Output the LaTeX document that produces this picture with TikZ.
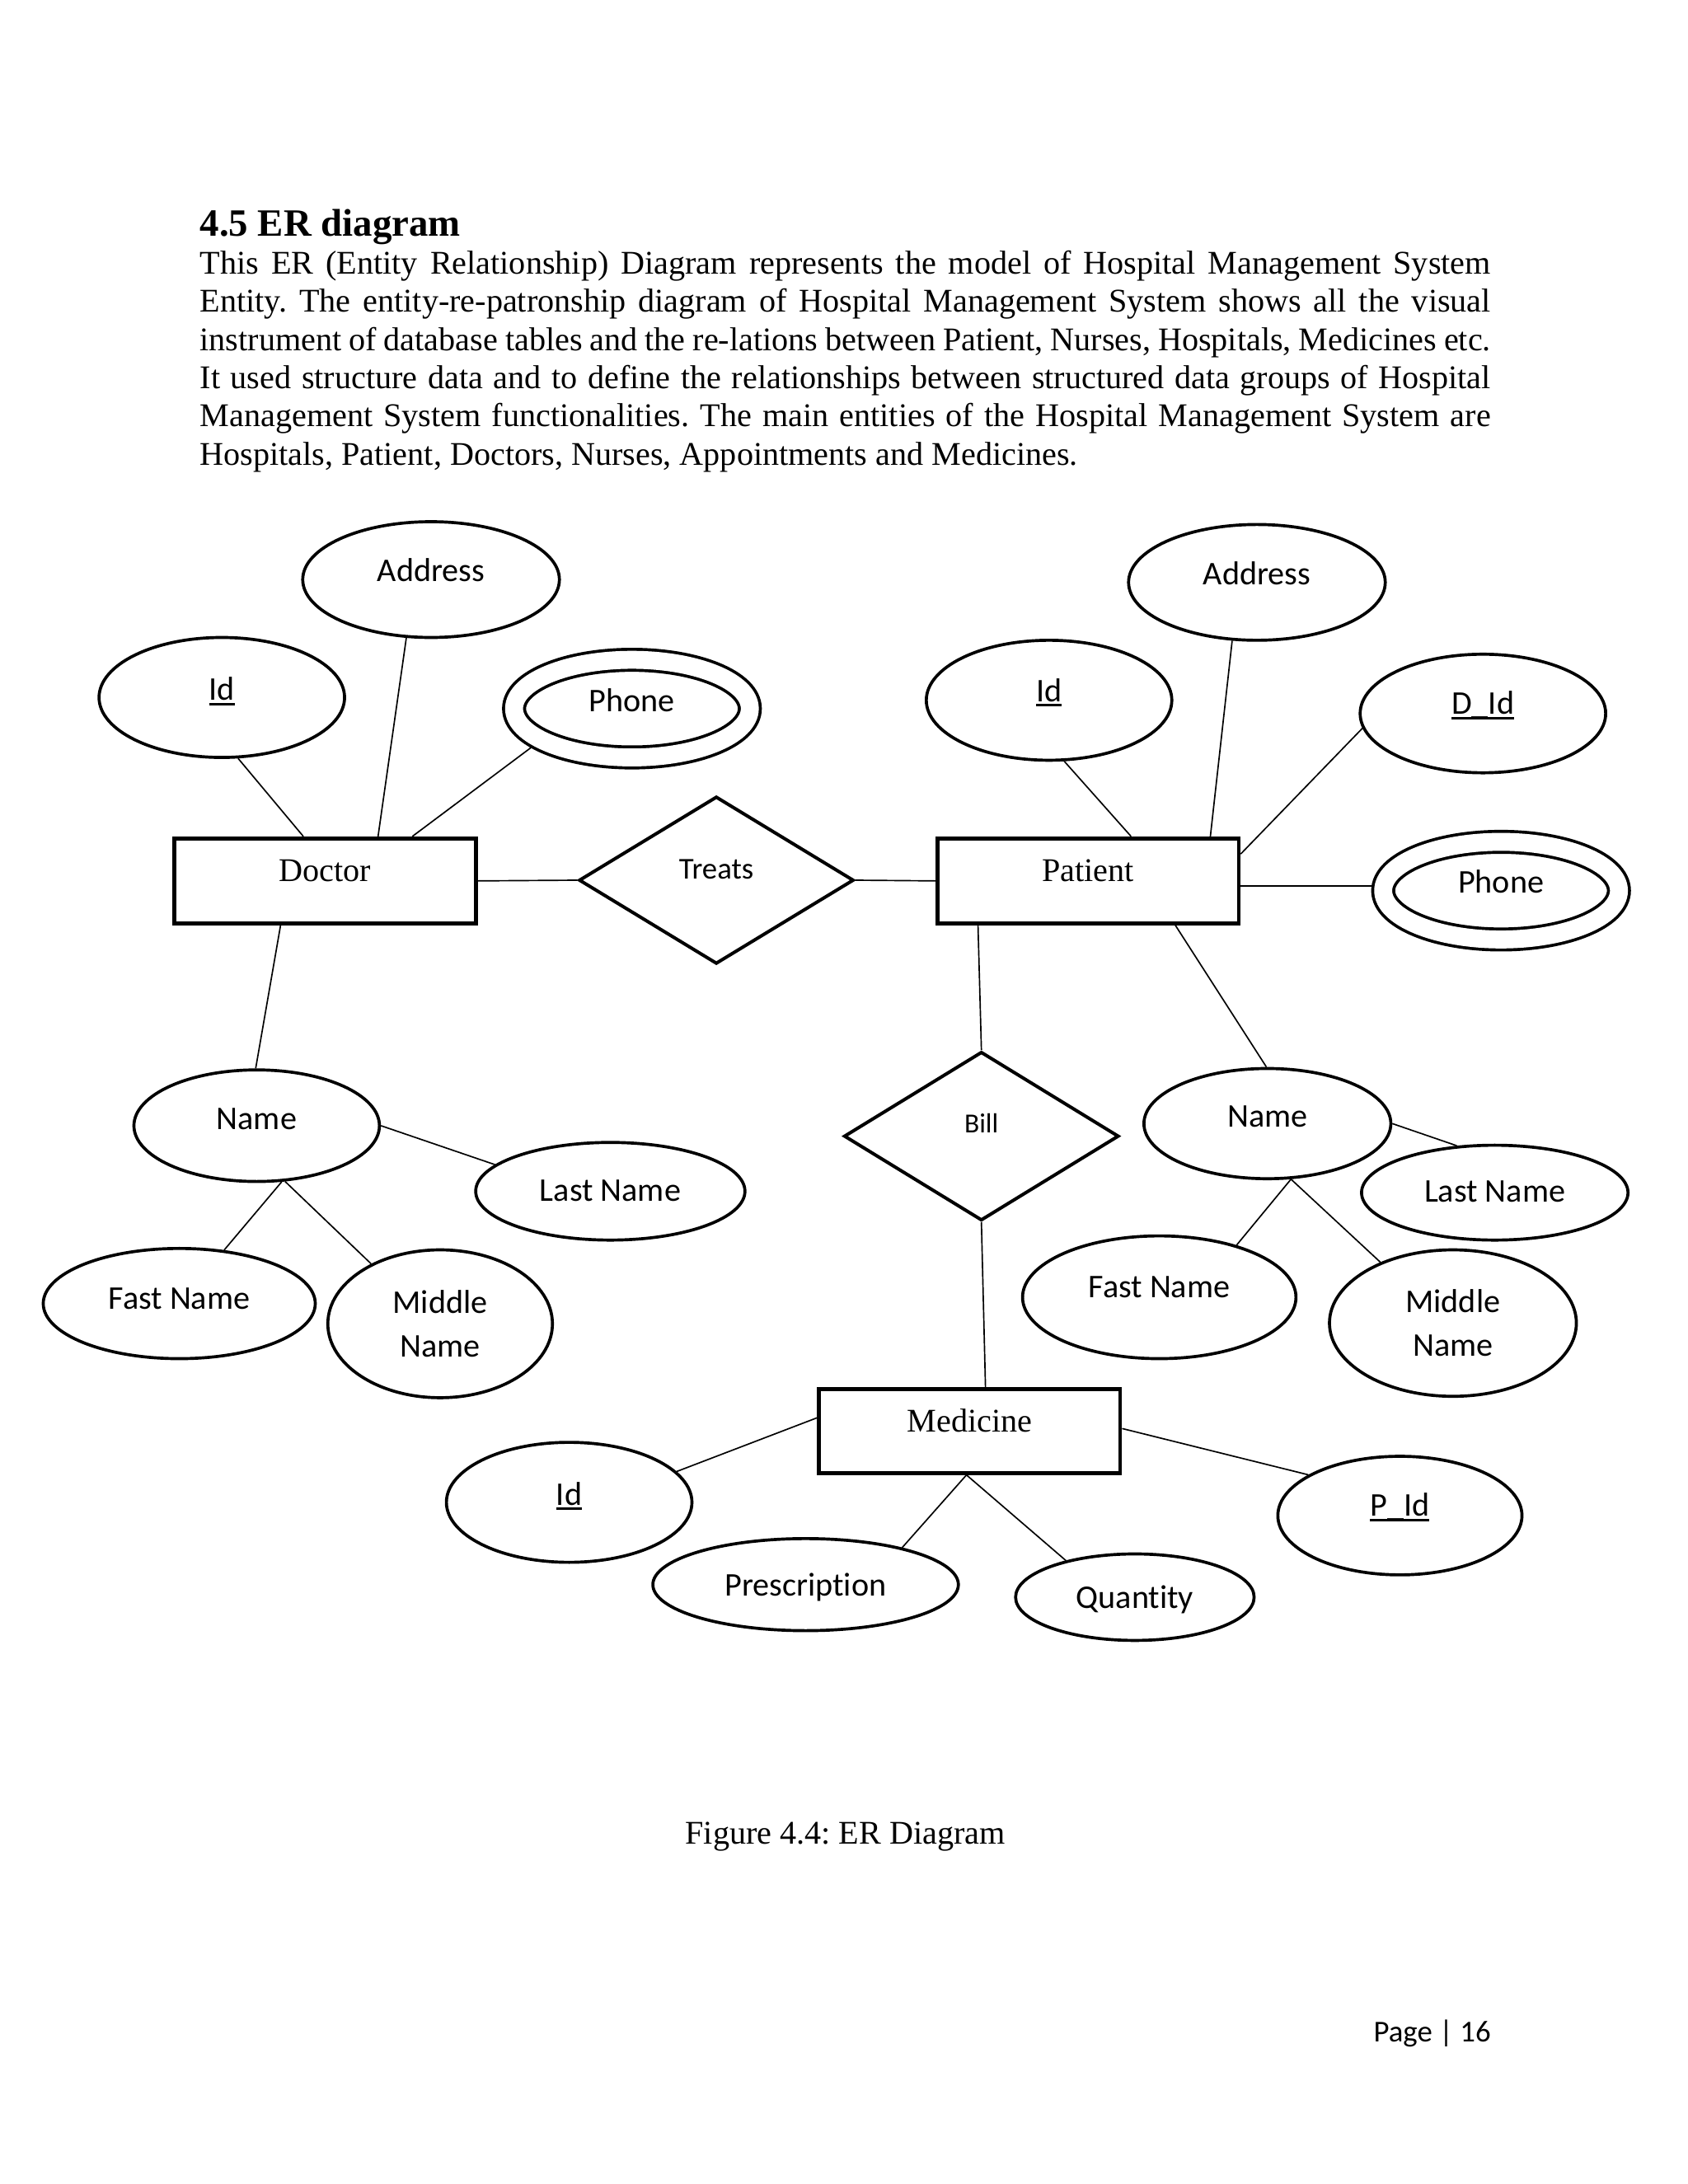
\documentclass[tikz,border=0pt]{standalone}
\usepackage{fontspec}
\setmainfont{Liberation Serif}
\newfontfamily\calibri[Ligatures = NoCommon]{Carlito}
\usetikzlibrary{shapes.geometric}

\newcommand\pxu{0.5058pt}
\newcommand\keyattr[1]{\setbox0\hbox{#1}\rlap{\rule[-1.8pt]{\wd0}{0.9pt}}\box0}
\frenchspacing

\tikzset{
  attr/.style 2 args = {ellipse, draw, line width = 1.1pt, inner sep = 1pt,
    minimum width = #1*\pxu, minimum height = #2*\pxu,
    font = \calibri\fontsize{12}{15.7}\selectfont},
  multi/.style 2 args = {attr = {#1}{#2}, double, double distance = 6.5pt, outer sep = 4.3pt},
  lift/.style = {text height = 8pt, text depth = #1},
  entity/.style = {rectangle, draw, line width = 1.4pt, minimum width = 216*\pxu,
    minimum height = 61*\pxu, font = \fontsize{12}{14}\selectfont, lift = 7.6pt},
  rel/.style 2 args = {diamond, draw, line width = 1.2pt, inner sep = 1pt,
    minimum width = #1*\pxu, minimum height = #2*\pxu},
  link/.style = {line width = 0.5pt}
}

\begin{document}
\begin{tikzpicture}[x = \pxu, y = -\pxu]
  \useasboundingbox (0, 0) rectangle (1210, 1565.7);

  \node[anchor = base west, inner sep = 0pt, font = \bfseries\fontsize{14}{16}\selectfont]
    (heading) at (143, 169) {4.5 ER diagram};
  \node[anchor = north west, inner sep = 0pt, font = \fontsize{12}{13.86}\selectfont]
    (intro) at (143, 176.8) {\parbox[t]{468pt}{%
    \hbox to \hsize{\strut This ER (Entity Relationship) Diagram represents the model of Hospital Management System}
    \hbox to \hsize{\strut Entity. The entity-re-patronship diagram of Hospital Management System shows all the visual}
    \hbox to \hsize{\strut instrument of database tables and the re-lations between Patient, Nurses, Hospitals, Medicines etc.}
    \hbox to \hsize{\strut It used structure data and to define the relationships between structured data groups of Hospital}
    \hbox to \hsize{\strut Management System functionalities. The main entities of the Hospital Management System are}
    \hbox{\strut Hospitals, Patient, Doctors, Nurses, Appointments and Medicines.}}};

  \node[entity] (doctor) at (233, 631.5) {Doctor};
  \node[entity] (patient) at (780, 631.5) {Patient};
  \node[entity, minimum height = 60*\pxu] (medicine) at (695, 1026) {Medicine};
  \node[rel = {197}{120}, font = \calibri\fontsize{11}{13}\selectfont, lift = 9pt]
    (treats) at (513.5, 631) {Treats};
  \node[rel = {197}{121}, font = \calibri\fontsize{10}{12}\selectfont, lift = 10.2pt]
    (bill) at (703.5, 814.5) {Bill};

  \node[attr = {184}{83}, lift = 6.6pt] (docaddress) at (309, 415.5) {Address};
  \node[attr = {176}{86}, lift = 6pt] (docid) at (159, 500) {\keyattr{Id}};
  \node[multi = {169}{70}, lift = 6pt] (docphone) at (453, 508) {Phone};
  \node[attr = {176}{80}, lift = 5pt] (docname) at (184, 807) {Name};
  \node[attr = {193}{70}, lift = 1pt] (doclast) at (437.5, 854) {Last Name};
  \node[attr = {195}{79}, lift = 4pt] (docfirst) at (128.5, 934.5) {Fast Name};
  \node[attr = {161}{106}, align = center] (docmiddle) at (315.5, 949) {Middle\\Name};

  \node[attr = {184}{83}, lift = 6.5pt] (patientaddress) at (901, 417.5) {Address};
  \node[attr = {176}{86}, lift = 7pt] (patientid) at (752, 502) {\keyattr{Id}};
  \node[attr = {176}{85}, lift = 7.5pt] (patientdid) at (1063, 511.5) {\keyattr{D\_Id}};
  \node[multi = {169}{70}, lift = 6.5pt] (patientphone) at (1076, 638.5) {Phone};
  \node[attr = {177}{79}, lift = 5.5pt] (patientname) at (908.5, 805.5) {Name};
  \node[attr = {191}{68}, lift = 1pt] (patientlast) at (1071.5, 855) {Last Name};
  \node[attr = {196}{88}, lift = 8pt] (patientfirst) at (831, 930) {Fast Name};
  \node[attr = {177}{105}, align = center] (patientmiddle) at (1041.5, 948.5) {Middle\\Name};

  \node[attr = {176}{86}, lift = 6pt] (medid) at (408, 1077) {\keyattr{Id}};
  \node[attr = {219}{66}, lift = 0pt] (prescription) at (577.5, 1136) {Prescription};
  \node[attr = {171}{62}, lift = 0pt] (quantity) at (813.5, 1145) {Quantity};
  \node[attr = {175}{85}, lift = 7.5pt] (pid) at (1003.5, 1086.5) {\keyattr{P\_Id}};

  \draw[link] (docid.-75) -- (doctor.116);
  \draw[link] (docaddress.247) -- (doctor.40);
  \draw[link] (docphone.201) -- (doctor.27);
  \draw[link] (doctor.east) -- (treats.west);
  \draw[link] (treats.east) -- (patient.west);
  \draw[link] (doctor.225) -- (docname.91);
  \draw[link] (docname.0) -- (doclast.167);
  \draw[link] (docname.-66) -- (docfirst.50);
  \draw[link] (docname.-63) -- (docmiddle.139);

  \draw[link] (patientid.-76) -- (patient.46);
  \draw[link] (patientaddress.247) -- (patient.20);
  \draw[link] (patientdid.187) -- (patient.10);
  \draw[link] (patient.-2) -- (patient.-2 -| patientphone.west);
  \draw[link] (patient.202) -- (bill.north);
  \draw[link] (bill.south) -- (medicine.70);
  \draw[link] (patient.-27) -- (patientname.91);
  \draw[link] (patientname.0) -- (patientlast.129);
  \draw[link] (patientname.-67) -- (patientfirst.34);
  \draw[link] (patientname.-67) -- (patientmiddle.140);

  \draw[link] (medicine.175) -- (medid.16);
  \draw[link] (medicine.-94) -- (prescription.21);
  \draw[link] (medicine.-94) -- (quantity.152);
  \draw[link] (medicine.1) -- (pid.156);

  \node[anchor = base, inner sep = 0pt, font = \fontsize{12}{14}\selectfont]
    (caption) at (606, 1322) {Figure 4.4: ER Diagram};
  \node[anchor = base east, inner sep = 0pt, font = \calibri\fontsize{11}{13}\selectfont]
    (page) at (1069, 1464) {Page | 16};
\end{tikzpicture}
\end{document}
